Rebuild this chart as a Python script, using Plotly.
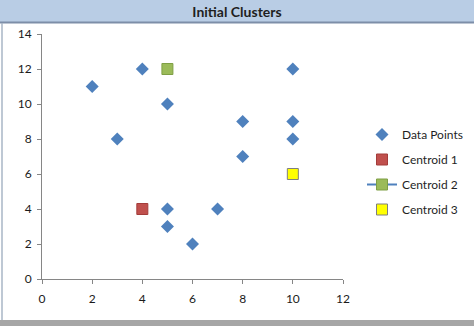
import plotly.graph_objects as go

# Observations and the three starting centroids
data_x = [2, 3, 4, 5, 5, 5, 6, 7, 8, 8, 10, 10, 10]
data_y = [11, 8, 12, 10, 4, 3, 2, 4, 9, 7, 12, 9, 8]

centroid1_x, centroid1_y = [4], [4]
centroid2_x, centroid2_y = [5], [12]
centroid3_x, centroid3_y = [10], [6]

x_ticks = [0, 2, 4, 6, 8, 10, 12]
y_ticks = [0, 2, 4, 6, 8, 10, 12, 14]
x_range = [0, 12]
y_range = [0, 14]

W, H = 474, 326
L, R, T, B = 42, 131, 34, 47
pw, ph = W - L - R, H - T - B


def px(x):
    return (x - L) / pw


def py(y):
    return (H - B - y) / ph


fig = go.Figure()

fig.add_trace(go.Scatter(
    x=data_x, y=data_y, mode="markers", name="Data Points", legendgroup="a",
    marker=dict(symbol="diamond", size=10, color="#4f81bd",
                line=dict(width=0)),
))
fig.add_trace(go.Scatter(
    x=centroid1_x, y=centroid1_y, mode="markers", name="Centroid 1", legendgroup="b",
    marker=dict(symbol="square", size=11, color="#c0504d",
                line=dict(width=1, color="#a33c3a")),
))
fig.add_trace(go.Scatter(
    x=centroid2_x, y=centroid2_y, mode="lines+markers", name="Centroid 2", legendgroup="c",
    line=dict(color="#4f81bd", width=2),
    marker=dict(symbol="square", size=11, color="#9bbb59",
                line=dict(width=1, color="#7f9f45")),
))
fig.add_trace(go.Scatter(
    x=centroid3_x, y=centroid3_y, mode="markers", name="Centroid 3", legendgroup="d",
    marker=dict(symbol="square", size=11, color="#ffff00",
                line=dict(width=1, color="#7f7f7f")),
))

shapes = [
    # title band
    dict(type="rect", xref="paper", yref="paper",
         x0=px(0), x1=px(W), y0=py(22), y1=py(0),
         fillcolor="#b9cde5", line=dict(width=0), layer="below"),
    dict(type="line", xref="paper", yref="paper",
         x0=px(0), x1=px(W), y0=py(22.5), y1=py(22.5),
         line=dict(color="#7d8ea8", width=2)),
    # frame edges
    dict(type="line", xref="paper", yref="paper",
         x0=px(2), x1=px(2), y0=py(23), y1=py(H),
         line=dict(color="#a9b6c6", width=1.5)),
    dict(type="rect", xref="paper", yref="paper",
         x0=px(0), x1=px(W), y0=py(H), y1=py(320),
         fillcolor="#a6a6a6", line=dict(width=0)),
]

fig.update_layout(
    width=W, height=H,
    margin=dict(l=L, r=R, t=T, b=B, autoexpand=False),
    paper_bgcolor="white", plot_bgcolor="white",
    font=dict(family="Lato, Carlito, sans-serif", size=12, color="#1a1a1a"),
    title=dict(text="<b>Initial Clusters</b>", x=0.5, xref="container",
               xanchor="center", y=1 - 12 / H, yanchor="middle",
               font=dict(size=14, color="#1f1f1f")),
    shapes=shapes,
    showlegend=True,
    legend=dict(x=362 / W, y=1 - 120 / H, xref="container", yref="container",
                xanchor="left", yanchor="top",
                tracegroupgap=6, font=dict(size=12, color="#1f1f1f"),
                bgcolor="rgba(0,0,0,0)", itemwidth=30),
)

# Label axes: long transparent ticks push the labels away from the lines
fig.update_layout(
    xaxis=dict(
        range=x_range, tickvals=x_ticks, ticktext=[str(v) for v in x_ticks],
        showgrid=False, zeroline=False, showline=True, linecolor="#868686",
        linewidth=1, ticks="outside", ticklen=9, tickcolor="rgba(0,0,0,0)",
        tickfont=dict(size=12), fixedrange=True, automargin=False,
    ),
    yaxis=dict(
        range=y_range, tickvals=y_ticks, ticktext=[str(v) for v in y_ticks],
        showgrid=False, zeroline=False, showline=True, linecolor="#868686",
        linewidth=1, ticks="outside", ticklen=7, tickcolor="rgba(0,0,0,0)",
        tickfont=dict(size=12), fixedrange=True, automargin=False,
    ),
    # Tick-mark axes overlaid on the label axes
    xaxis2=dict(
        range=x_range, tickvals=x_ticks, overlaying="x", side="bottom",
        showticklabels=False, showgrid=False, zeroline=False, showline=False,
        ticks="outside", ticklen=4, tickcolor="#868686", fixedrange=True,
        automargin=False, anchor="y",
    ),
    yaxis2=dict(
        range=y_range, tickvals=y_ticks, overlaying="y", side="left",
        showticklabels=False, showgrid=False, zeroline=False, showline=False,
        ticks="outside", ticklen=4, tickcolor="#868686", fixedrange=True,
        automargin=False, anchor="x",
    ),
)

# invisible carrier so the overlaid tick axes are rendered
fig.add_trace(go.Scatter(x=[None], y=[None], xaxis="x2", yaxis="y2",
                         showlegend=False, hoverinfo="skip"))

fig.write_html("out.html")
